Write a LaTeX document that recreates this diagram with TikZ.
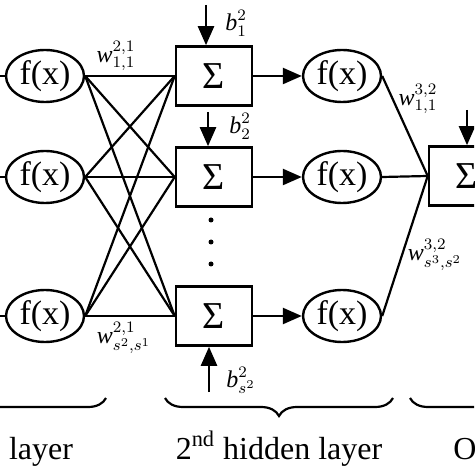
\documentclass[tikz,border=0pt]{standalone}
\usepackage{fontspec}
\setmainfont{Liberation Serif}
\usetikzlibrary{shapes.geometric,arrows.meta,decorations.pathreplacing}

\tikzstyle{fNode} = [ellipse, draw=black, line width=1.2pt, inner sep=0pt, minimum width=39pt, minimum height=26pt, font=\fontsize{17}{18}\selectfont]
\tikzstyle{sumNode} = [rectangle, draw=black, line width=1.3pt, inner sep=0pt, minimum width=38pt, minimum height=29.5pt, font=\fontsize{19}{20}\selectfont]
\tikzstyle{arrow} = [line width=1.2pt,-{Triangle[length=9.5pt,width=8pt]}]
\tikzstyle{wire} = [line width=1.1pt]
\tikzstyle{wLabel} = [font=\fontsize{12}{13}\selectfont]
\tikzstyle{layerLabel} = [anchor=base, inner sep=0pt, font=\fontsize{16}{18}\selectfont]
\tikzstyle{layerBrace} = [line width=1.1pt, decorate, decoration={brace, mirror, amplitude=9pt}]

\begin{document}
\begin{tikzpicture}[x=0.5pt, y=-0.5pt]
    \useasboundingbox (0,0) rectangle (474,474);
    \clip (0,0) rectangle (474,474);

    % first layer
    \node (l1)[fNode] at (45,76) {f(x)};
    \node (l2)[fNode] at (45,177) {f(x)};
    \node (l3)[fNode] at (45,316) {f(x)};
    % second layer
    \node (s1)[sumNode] at (214,76) {Σ};
    \node (s2)[sumNode] at (214,177) {Σ};
    \node (s3)[sumNode] at (214,316) {Σ};
    \node (h1)[fNode] at (342,76) {f(x)};
    \node (h2)[fNode] at (342,177) {f(x)};
    \node (h3)[fNode] at (342,316) {f(x)};
    % output layer
    \node (out)[sumNode] at (467,176) {Σ};

    % inputs from the left
    \foreach \i/\y in {1/76,2/177,3/316} {
      \coordinate (in\i) at (-20,\y);
      \draw [wire] (in\i) -- (l\i.west);
    }

    \foreach \i in {1,2,3}
      \foreach \j in {1,2,3}
        \draw [wire] (l\i.east) -- (s\j.west);
    \foreach \i in {1,2,3} {
      \draw [arrow] (s\i) -- (h\i);
      \draw [wire] (h\i.east) -- (out.west);
    }

    % biases
    \coordinate (b1) at (206,5);
    \coordinate (b2) at (208,112);
    \coordinate (b3) at (209,392);
    \coordinate (bo) at (467,110);
    \draw [arrow] (b1) -- (b1 |- s1.north);
    \draw [arrow] (b2) -- (b2 |- s2.north);
    \draw [arrow] (b3) -- (b3 |- s3.south);
    \draw [arrow] (bo) -- (bo |- out.north);

    \node (b1Label)[wLabel] at (236,23) {$\textit{b}^2_1$};
    \node (b2Label)[wLabel] at (240,126) {$\textit{b}^2_2$};
    \node (b3Label)[wLabel] at (241,380) {$\textit{b}^2_{s^2}$};
    \node (w1Label)[wLabel] at (116,56) {$\textit{w}^{2,1}_{1,1}$};
    \node (w2Label)[wLabel] at (124,338) {$\textit{w}^{2,1}_{s^2,s^1}$};
    \node (w3Label)[wLabel] at (418,99) {$\textit{w}^{3,2}_{1,1}$};
    \node (w4Label)[wLabel] at (435,255) {$\textit{w}^{3,2}_{s^3,s^2}$};

    \foreach \y in {220,242,264}
      \fill (211,\y) circle (2.5);

    % layer braces
    \draw [layerBrace] (-250,398) -- (106,398);
    \draw [layerBrace] (165,398) -- (393,398);
    \draw [layerBrace] (410,398) -- (700,398);

    \node (layer1)[layerLabel] at (41,459) {layer};
    \node (layer2)[layerLabel] at (279,459) {2\textsuperscript{nd} hidden layer};
    \node (layer3)[layerLabel, anchor=base west] at (453,459) {O};

  \end{tikzpicture}
\end{document}
